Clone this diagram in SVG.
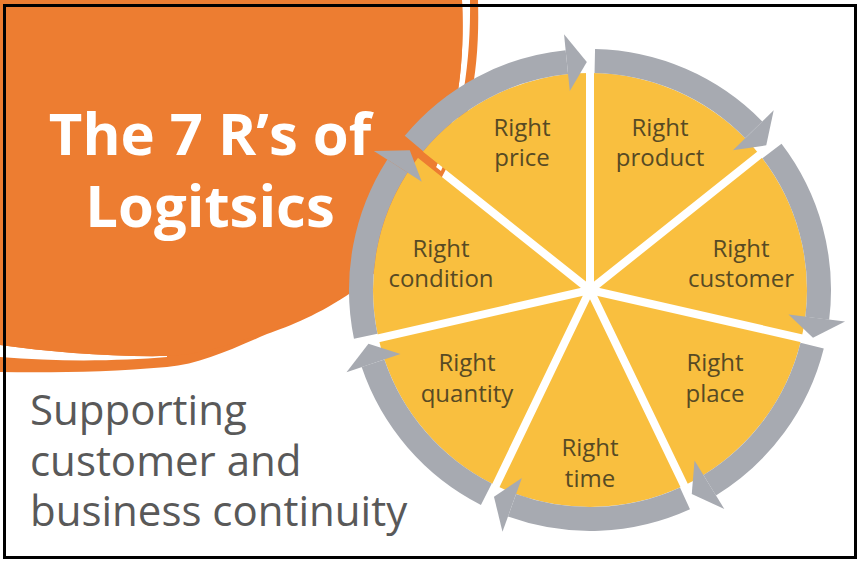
<svg xmlns="http://www.w3.org/2000/svg" width="861" height="562" viewBox="0 0 861 562">
<style>
.org{fill:#ED7D31}
.gap{fill:#FFFFFF}
.wedge{fill:#F9BF3F}
.ring{fill:none;stroke:#A7AAB1;stroke-width:24}
.head{fill:#A7AAB1}
.lbl{font-family:"Open Sans","Liberation Sans",sans-serif;font-size:24px;fill:#574A24;text-anchor:middle}
.title{font-family:"Open Sans","Liberation Sans",sans-serif;font-weight:bold;font-size:58px;fill:#FFFFFF;text-anchor:middle}
.sub{font-family:"Open Sans","Liberation Sans",sans-serif;font-size:42px;fill:#595959}
</style>
<defs>
<mask id="spokes" maskUnits="userSpaceOnUse" x="0" y="0" width="861" height="562">
<rect x="0" y="0" width="861" height="562" fill="#fff"/>
<g stroke="#000" stroke-width="8" stroke-linecap="round">
<line x1="590" y1="290" x2="590" y2="40"/>
<line x1="590" y1="290" x2="785.46" y2="134.13"/>
<line x1="590" y1="290" x2="833.73" y2="345.63"/>
<line x1="590" y1="290" x2="698.47" y2="515.24"/>
<line x1="590" y1="290" x2="481.53" y2="515.24"/>
<line x1="590" y1="290" x2="346.27" y2="345.63"/>
<line x1="590" y1="290" x2="394.54" y2="134.13"/>
</g>
</mask>
</defs>
<rect x="0" y="0" width="861" height="562" fill="#FFFFFF"/>
<g id="background-shape">
<path class="org" d="M0,0 H478 C480,70 470,125 444,173 C418,225 392,262 352,292 C320,314 290,326 267,334 C230,350 200,364 167,367 C110,372 50,373 0,372 Z"/>
<path class="gap" d="M462,0 C465,60 458,120 436,167 L441,171 C462,124 471,60 470,0 Z"/>
<path class="gap" d="M167,356 C110,357 50,352 0,345 L0,357 C60,362 120,361 167,357 Z"/>
<path class="org" d="M0,0 H462 C465,60 458,120 436,167 C415,212 390,258 352,290 C320,313 290,325 267,332 C230,345 200,355 167,356 C110,357 50,352 0,345 Z"/>
</g>
<g id="title">
<text class="title" x="210" y="155">The 7 R’s of</text>
<text class="title" x="210" y="227">Logitsics</text>
</g>
<g id="subtitle">
<text class="sub" x="30" y="425">Supporting</text>
<text class="sub" x="30" y="476">customer and</text>
<text class="sub" x="30" y="526">business continuity</text>
</g>
<g id="wedges" mask="url(#spokes)">
<g id="right-product">
<path class="wedge" d="M590,290 L590,73 A217,217 0 0 1 759.66,154.70 Z"/>
</g>
<g id="right-customer">
<path class="wedge" d="M590,290 L759.66,154.70 A217,217 0 0 1 801.56,338.29 Z"/>
</g>
<g id="right-place">
<path class="wedge" d="M590,290 L801.56,338.29 A217,217 0 0 1 684.15,485.51 Z"/>
</g>
<g id="right-time">
<path class="wedge" d="M590,290 L684.15,485.51 A217,217 0 0 1 495.85,485.51 Z"/>
</g>
<g id="right-quantity">
<path class="wedge" d="M590,290 L495.85,485.51 A217,217 0 0 1 378.44,338.29 Z"/>
</g>
<g id="right-condition">
<path class="wedge" d="M590,290 L378.44,338.29 A217,217 0 0 1 420.34,154.70 Z"/>
</g>
<g id="right-price">
<path class="wedge" d="M590,290 L420.34,154.70 A217,217 0 0 1 590,73 Z"/>
</g>
</g>
<g id="connectors">
<path class="ring" d="M594.80,61.05 A229,229 0 0 1 753.70,129.86"/>
<polygon class="head" points="773.71,110.28 766.26,145.37 732.97,150.14"/>
<path class="ring" d="M771.99,151.00 A229,229 0 0 1 817.26,318.15"/>
<polygon class="head" points="845.05,321.59 812.97,337.64 788.48,314.58"/>
<path class="ring" d="M812.14,345.63 A229,229 0 0 1 709.69,485.23"/>
<polygon class="head" points="724.32,509.11 691.77,494.03 694.53,460.51"/>
<path class="ring" d="M685.00,498.37 A229,229 0 0 1 512.02,505.31"/>
<polygon class="head" points="502.48,531.64 493.97,496.79 521.89,478.05"/>
<path class="ring" d="M486.36,494.20 A229,229 0 0 1 373.04,363.27"/>
<polygon class="head" points="346.51,372.23 368.45,343.84 400.51,353.99"/>
<path class="ring" d="M365.72,336.28 A229,229 0 0 1 397.44,166.05"/>
<polygon class="head" points="373.90,150.89 409.77,150.35 421.83,181.75"/>
<path class="ring" d="M413.99,143.50 A229,229 0 0 1 566.86,62.17"/>
<polygon class="head" points="564.03,34.32 586.82,62.02 569.79,91.02"/>
</g>
<g id="labels">
<text class="lbl" x="522" y="136">Right<tspan x="522" y="166">price</tspan></text>
<text class="lbl" x="660" y="136">Right<tspan x="660" y="166">product</tspan></text>
<text class="lbl" x="741" y="257">Right<tspan x="741" y="287">customer</tspan></text>
<text class="lbl" x="441" y="257">Right<tspan x="441" y="287">condition</tspan></text>
<text class="lbl" x="467" y="371">Right<tspan x="467" y="402">quantity</tspan></text>
<text class="lbl" x="715" y="371">Right<tspan x="715" y="402">place</tspan></text>
<text class="lbl" x="590" y="456">Right<tspan x="590" y="487">time</tspan></text>
</g>
<rect x="4.5" y="5.5" width="851" height="552" fill="none" stroke="#000000" stroke-width="3"/>
</svg>
